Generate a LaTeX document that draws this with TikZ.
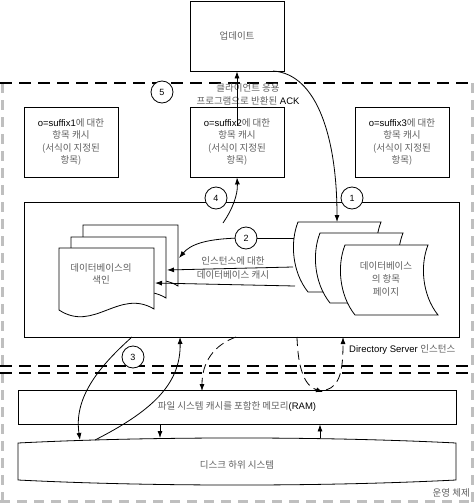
\documentclass[tikz,border=0pt]{standalone}
\usepackage{fontspec}
\setmainfont{Liberation Sans}
\newfontfamily\krfont{Noto Sans CJK KR}
\usetikzlibrary{arrows.meta}
\definecolor{krgray}{gray}{0.38}
\newcommand{\K}[1]{{\krfont\color{krgray}#1}}
\begin{document}
\begin{tikzpicture}[x=1pt,y=-1pt,
  every node/.style={font=\fontsize{9.5}{12.5}\selectfont, text=black, inner sep=0pt},
  box/.style={draw, line width=0.8pt, fill=white},
  num/.style={draw, circle, line width=0.8pt, fill=white, minimum size=22pt, inner sep=0pt, font=\fontsize{9}{10}\selectfont},
  arr/.style={line width=0.8pt, -{Latex[length=7pt,width=5pt]}},
  plain/.style={line width=0.8pt},
  darr/.style={arr, dash pattern=on 9pt off 5pt},
  bigdash/.style={line width=1.3pt, dash pattern=on 12pt off 7pt},
  sidedash/.style={line width=3pt, black!25, dash pattern=on 10pt off 7pt},
  lbl/.style={align=center},
]
\useasboundingbox (0,0) rectangle (474,503);

% region borders
\draw[sidedash] (2,83) -- (2,366);
\draw[sidedash] (472.5,83) -- (472.5,366);
\draw[sidedash] (2,373) -- (2,503);
\draw[sidedash] (472.5,373) -- (472.5,503);
\draw[sidedash] (0,501.5) -- (474,501.5);
\draw[bigdash] (0,83) -- (474,83);
\draw[bigdash] (0,366) -- (474,366);
\draw[bigdash] (0,373) -- (474,373);

% update box
\node[box, minimum width=94pt, minimum height=70pt] (upd) at (237,36) {\K{업데이트}};

% suffix boxes
\node[box, minimum width=94pt, minimum height=70pt, lbl] (s1) at (71,142)
  {o=suffix1\K{에 대한}\\\K{항목 캐시}\\\K{(서식이 지정된}\\\K{항목)}};
\node[box, minimum width=94pt, minimum height=70pt, lbl] (s2) at (237,142)
  {o=suffix2\K{에 대한}\\\K{항목 캐시}\\\K{(서식이 지정된}\\\K{항목)}};
\node[box, minimum width=94pt, minimum height=70pt, lbl] (s3) at (402,142)
  {o=suffix3\K{에 대한}\\\K{항목 캐시}\\\K{(서식이 지정된}\\\K{항목)}};

% ACK label
\node[lbl, font=\fontsize{9.5}{12.5}\selectfont] (ack) at (248,94.5)
  {\K{클라이언트 응용}\\\K{프로그램으로 반환된} ACK};

% inner (Directory Server) box
\node[box, minimum width=435pt, minimum height=135pt] (inner) at (241.5,269.5) {};

% document stack (index)
\foreach \px/\py in {83/225, 71/237, 59/248}{
  \begin{scope}[shift={(\px,\py)}]
    \draw[box] (0,0) -- (95,0) -- (95,61) .. controls (60,40) and (35,85) .. (0,62) -- cycle;
  \end{scope}
}
\node[lbl] (idx) at (101,274) {\K{데이터베이스의}\\\K{색인}};
\coordinate (pgB) at (179,258);
\coordinate (pgM) at (167,270);
\coordinate (pgF) at (155,283);

% stored data stack (entry pages)
\foreach \px/\py in {298/222, 320/233, 345/245}{
  \begin{scope}[shift={(\px,\py)}]
    \draw[box] (0,0) -- (83,0) .. controls (75,20) and (77,50) .. (93,70) -- (10,70) .. controls (-6,50) and (-8,20) .. cycle;
  \end{scope}
}
\node[lbl, font=\fontsize{9.5}{13}\selectfont] (ent) at (386,279) {\K{데이터베이스}\\\K{의 항목}\\\K{페이지}};
\coordinate (sdA) at (294,238);
\coordinate (sdB) at (293,267);
\coordinate (sdC) at (295,286);
\coordinate (sdTop) at (337,222);

% circled numbers (positions)
\coordinate (p5) at (162,92);
\coordinate (p4) at (216,198);
\coordinate (p1) at (352,198);
\coordinate (p2) at (246,238);
\coordinate (p3) at (133,357);

% arrows in upper part
\coordinate (a5s) at (237,125);
\draw[arr] (a5s) -- (upd.south);
\coordinate (a1s) at (273,71);
\draw[arr] (a1s) .. controls (318,74) and (337,140) .. (sdTop);
\coordinate (a4s) at (223,223);
\draw[arr] (a4s) .. controls (232,210) and (238,195) .. (s2.south);

% arrows from entry pages to index
\draw[plain] (sdA) -- (p2);
\draw[arr] (p2) .. controls (205,238) and (190,245) .. (pgB);
\draw[arr] (sdB) -- (pgM);
\draw[arr] (sdC) -- (pgF);
\node[lbl, font=\fontsize{9.5}{14}\selectfont] (cachelbl) at (233,268)
  {\K{인스턴스에 대한}\\\K{데이터베이스 캐시}};

% memory and disk
\node[box, minimum width=438pt, minimum height=34pt] (mem) at (237,407)
  {\K{파일 시스템 캐시를 포함한 메모리}(RAM)};
\draw[box] (18,443) .. controls (150,436.3) and (324,436.3) .. (456,443) -- (456,480)
  .. controls (324,486.7) and (150,486.7) .. (18,480) -- cycle;
\node (disk) at (237,465) {\K{디스크 하위 시스템}};
\coordinate (dk1) at (160,438);
\coordinate (dk2) at (320,438);
\draw[arr] (mem.south -| dk1) -- (dk1);
\draw[arr] (dk2) -- (mem.south -| dk2);

% arrows between inner box and memory/disk
\coordinate (b3s) at (132,337);
\coordinate (dkA) at (80,440);
\draw[arr] (b3s) .. controls (95,370) and (74,400) .. (dkA);
\coordinate (dkB) at (95,440);
\coordinate (inB) at (180,337);
\draw[arr] (dkB) .. controls (150,412) and (181,385) .. (inB);
\coordinate (inC) at (236,337);
\coordinate (mmC) at (202,391);
\draw[darr] (inC) .. controls (214,345) and (202,362) .. (mmC);
\coordinate (inD) at (297,337);
\coordinate (mmD) at (323,392);
\draw[darr] (inD) .. controls (298,370) and (305,386) .. (mmD);
\coordinate (mmE) at (326,390);
\coordinate (inE) at (343,337);
\draw[darr] (mmE) .. controls (340,386) and (343,370) .. (inE);

% circles on top
\node[num] (c5) at (p5) {5};
\node[num] (c4) at (p4) {4};
\node[num] (c1) at (p1) {1};
\node[num] (c2) at (p2) {2};
\node[num] (c3) at (p3) {3};

% labels
\node[anchor=west] (dslbl) at (349,350) {Directory Server \K{인스턴스}};
\node[anchor=east] (oslbl) at (470,493) {\K{운영 체제}};
\end{tikzpicture}
\end{document}
